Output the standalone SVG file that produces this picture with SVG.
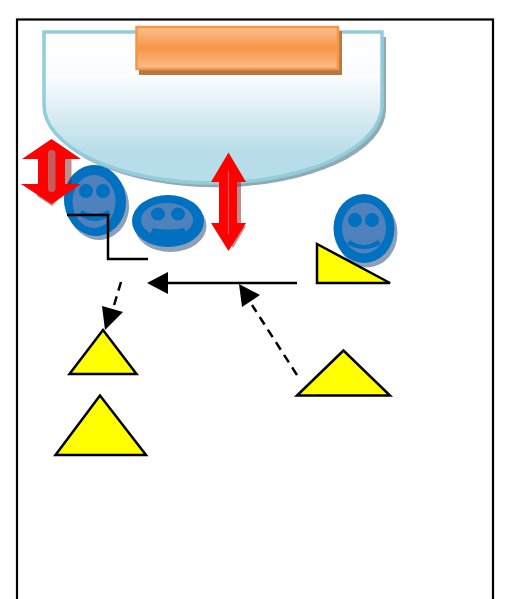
<svg xmlns="http://www.w3.org/2000/svg" width="506" height="599" viewBox="0 0 506 599">
<style>
.tri{fill:#ff0;stroke:#000;stroke-width:2.500;stroke-linejoin:miter}
.wire{fill:none;stroke:#000;stroke-width:2.500}
.dash{stroke-dasharray:9 6}
.head{fill:#000}
.oval{fill:#0070c0}
.oshadow{fill:#1f3f6f;opacity:.5}
.face{fill:#4f81bd}
.feat{fill:#0070c0}
.red{fill:#f00}
.rshadow{fill:#7a2020;opacity:.5}
</style>
<defs>
<linearGradient id="bowlFill" x1="0" y1="0" x2="0" y2="1"><stop offset="0" stop-color="#fff"/><stop offset=".3" stop-color="#fafcfd"/><stop offset=".8" stop-color="#b7dde8"/><stop offset="1" stop-color="#b7dde8"/></linearGradient>
<linearGradient id="barFill" x1="0" y1="0" x2="0" y2="1"><stop offset="0" stop-color="#fac090"/><stop offset=".5" stop-color="#f79646"/><stop offset="1" stop-color="#fabf8f"/></linearGradient>
</defs>
<rect id="frame" x="17" y="19.500" width="476" height="600" fill="#fff" stroke="#000" stroke-width="2.200"/>
<g id="bowl">
<path d="M48,37H386V109A169,78 0 0 1 47,109Z" fill="#7f9aa5" opacity=".85"/>
<path d="M44,32H382V105A169,78 0 0 1 44,105Z" fill="url(#bowlFill)" stroke="#92cddc" stroke-width="3.500"/>
</g>
<g id="bar">
<rect x="139" y="31" width="203" height="44" fill="#b57843"/>
<rect x="136.500" y="27" width="201.500" height="42" fill="url(#barFill)" stroke="#f79646" stroke-width="2.500"/>
</g>
<g id="face-left">
<ellipse class="oshadow" cx="98" cy="205" rx="31" ry="35" transform="rotate(-8 98 205)"/>
<ellipse class="oval" cx="95" cy="200.500" rx="31" ry="35.500" transform="rotate(-8 95 200.500)"/>
<ellipse class="face" cx="94" cy="201.500" rx="21.500" ry="26.500"/>
<circle class="feat" cx="86" cy="191" r="7"/><circle class="feat" cx="103" cy="191" r="7"/>
<path class="feat" d="M79,215L82,210Q95,218 108,210L111,215Q95,227 79,215Z"/>
</g>
<g id="face-middle">
<ellipse class="oshadow" cx="170.500" cy="226" rx="36" ry="26"/>
<ellipse class="oval" cx="168" cy="221" rx="36" ry="26"/>
<ellipse class="face" cx="167" cy="220" rx="26" ry="17"/>
<ellipse class="feat" cx="158" cy="214" rx="7" ry="6.500"/><ellipse class="feat" cx="178" cy="214" rx="7" ry="6.500"/>
<path class="feat" d="M149,236L153,228Q168,231 184,228L188,236Q168,244 149,236Z"/>
</g>
<g id="face-right">
<ellipse class="oshadow" cx="367" cy="233" rx="30.500" ry="34.500"/>
<ellipse class="oval" cx="364" cy="228.500" rx="30.500" ry="34.500"/>
<ellipse class="face" cx="364" cy="228" rx="22" ry="25.500"/>
<circle class="feat" cx="355" cy="220" r="7"/><circle class="feat" cx="372" cy="220" r="7"/>
<path class="feat" d="M350,240Q364,250 378,240L381,244Q364,254 347,244Z"/>
</g>
<g id="updown-left">
<path class="rshadow" d="M65,159H71.500V186L52,206L37,196L40,184H65Z"/>
<path class="red" d="M51.500,139L81,159H65V184H81L51.500,204L21,184H38V159H22Z"/>
<rect x="48" y="150" width="7.500" height="42" rx="3.500" fill="#c65b5b"/>
</g>
<g id="updown-middle">
<path class="rshadow" d="M237,182H241V226H246L233,248L228,240V182Z"/>
<path class="red" d="M228.500,152.500L246,182H237V223H246L228.500,251L211,223H219V182H211Z"/>
<path d="M228.500,171V234" stroke="#d05a5a" stroke-width="1.200" fill="none"/>
</g>
<g id="triangle-right-angle"><path class="tri" d="M317,244V283H390Z"/></g>
<g id="triangle-a"><path class="tri" d="M103,330L69.500,374H136.500Z"/></g>
<g id="triangle-b"><path class="tri" d="M100,395.500L55.500,455H146Z"/></g>
<g id="triangle-c"><path class="tri" d="M343.500,350.500L297,395.500H390Z"/></g>
<g id="connectors">
<path class="wire" d="M67,215H108V259H148"/>
<path class="wire" d="M297,283H165"/>
<path class="head" d="M147,283L168,272V294Z"/>
<path class="wire dash" d="M297,375L252,305"/>
<path class="head" d="M239,284L260,295L242,307Z"/>
<path class="wire dash" d="M121,282L112,312"/>
<path class="head" d="M105,330L102,306L123,312Z"/>
</g>
</svg>
